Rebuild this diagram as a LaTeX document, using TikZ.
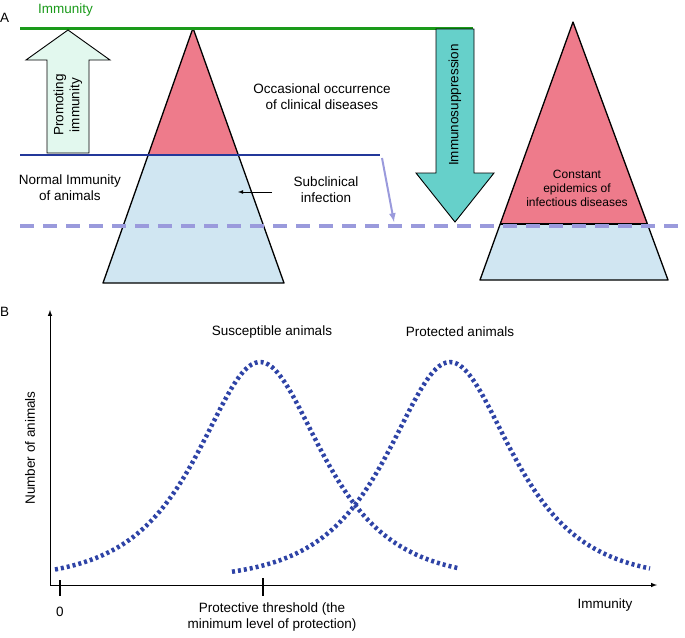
\documentclass[tikz,border=0pt]{standalone}
\usepackage{fontspec}
\setmainfont{Liberation Sans}
\begin{document}
\begin{tikzpicture}[x=1pt,y=-1pt,
  txt/.style={font=\fontsize{13.5}{16}\selectfont,align=center,inner sep=0},
  small/.style={font=\fontsize{12}{14}\selectfont,align=center,inner sep=0},
  edge/.style={line width=1.3pt,black,line join=round}]
\definecolor{red1}{HTML}{EE7B8B}
\definecolor{blu1}{HTML}{D0E6F2}
\definecolor{grn}{HTML}{1A9A1A}
\definecolor{dblue}{HTML}{23389A}
\definecolor{lav}{HTML}{9A9ADC}
\definecolor{mint}{HTML}{E2F8EE}
\definecolor{teal1}{HTML}{66D0CA}
\definecolor{dot}{HTML}{2E43A6}
\useasboundingbox (0,0) rectangle (685,637);
% Panel A
\node[txt,anchor=west] (A) at (0,18) {A};
\node[txt,anchor=west,text=grn] (imm) at (38,10) {Immunity};
% triangle 1
\fill[blu1] (148,155) -- (238,155) -- (284,283) -- (103,283) -- cycle;
\fill[red1] (193,28) -- (238,155) -- (148,155) -- cycle;
\draw[edge] (193,28) -- (284,283) -- (103,283) -- cycle;
% triangle 2
\fill[blu1] (500,224) -- (648,224) -- (668,280) -- (480,280) -- cycle;
\fill[red1] (573,22) -- (648,224) -- (500,224) -- cycle;
\draw[edge] (573,22) -- (668,280) -- (480,280) -- cycle;
\draw[edge] (500,224) -- (648,224);
% dashed line
\draw[lav,line width=4.5pt,dash pattern=on 14pt off 9pt] (20,226) -- (685,226);
% green line
\draw[grn,line width=3pt] (20,28) -- (473,28);
% blue line with arrow
\coordinate (bend) at (380,155);
\coordinate (bend2) at (382,158);
\draw[dblue,line width=2.5pt] (20,155) -- (bend);
\draw[lav,line width=2pt,-latex] (bend2) -- (394,222);
% promoting arrow
\draw[fill=mint,line width=0.9pt] (47,153) -- (47,60) -- (26,60) -- (68,30) -- (110,60) -- (89,60) -- (89,153) -- cycle;
\node[txt,rotate=90] (prom) at (68,105) {Promoting\\immunity};
% immunosuppression arrow
\draw[fill=teal1,line width=0.9pt] (436,29) -- (474,29) -- (474,173) -- (494,173) -- (455,222) -- (416,173) -- (436,173) -- cycle;
\node[txt,rotate=90] (sup) at (455,105) {Immunosuppression};
% texts
\node[txt] (occ) at (322,97) {Occasional occurrence\\of clinical diseases};
\node[txt] (norm) at (70,188) {Normal Immunity\\of animals};
\node[txt] (sub) at (326,190) {Subclinical\\infection};
\coordinate (subtip) at (238,192);
\draw[-latex,line width=0.8pt] (272,192) -- (subtip);
\node[small] (const) at (577,188) {Constant\\epidemics of\\infectious diseases};
% Panel B
\node[txt,anchor=west] (B) at (0,312) {B};
\coordinate (O) at (50,585);
\draw[-latex,line width=1pt] (O) -- (50,310);
\draw[-latex,line width=1pt] (O) -- (657,585);
\draw[line width=2.5pt] (60,580) -- (60,596);
\draw[line width=2.5pt] (263,578) -- (263,596);
\node[txt] (zero) at (60,612) {0};
\node[txt] (thr) at (272,617) {Protective threshold (the\\minimum level of protection)};
\node[txt] (immx) at (605,605) {Immunity};
\node[txt,rotate=90] (num) at (30,448) {Number of animals};
\node[txt] (sus) at (272,332) {Susceptible animals};
\node[txt] (pro) at (460,332) {Protected animals};
\draw[dot,line width=4.5pt,dash pattern=on 3pt off 3pt] plot[domain=55:458,samples=120,smooth] (\x,{580-436/(exp((\x-260)/55)+exp(-(\x-260)/55))});
\draw[dot,line width=4.5pt,dash pattern=on 3pt off 3pt] plot[domain=232:650,samples=120,smooth] (\x,{580-436/(exp((\x-450)/55)+exp(-(\x-450)/55))});
\end{tikzpicture}
\end{document}
